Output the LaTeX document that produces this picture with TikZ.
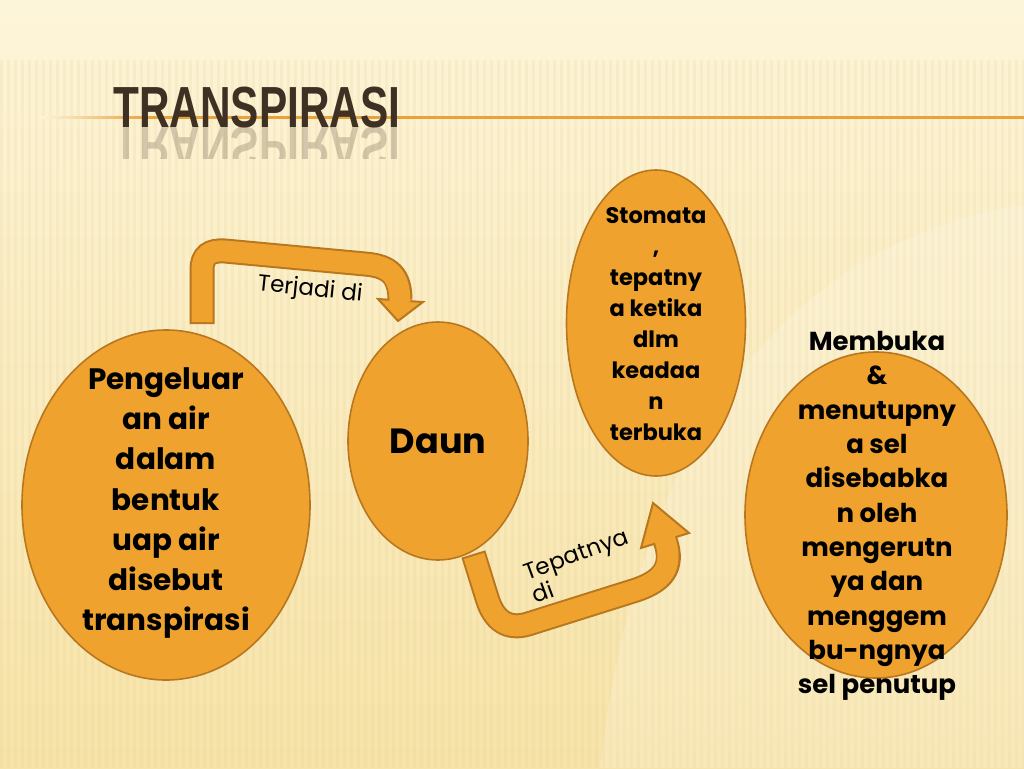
\documentclass[tikz,border=0pt]{standalone}
\usepackage{fontspec}
\usepackage{graphicx}
\usetikzlibrary{shapes.geometric}
\newfontfamily\pop{Poppins}
\newfontfamily\ttlfont{Liberation Sans}
\definecolor{bgtop}{HTML}{FDF5DA}
\definecolor{bgbot}{HTML}{F7E3A8}
\definecolor{stripe}{HTML}{E6CF8A}
\definecolor{orng}{HTML}{F0A22E}
\definecolor{brd}{HTML}{B8771F}
\definecolor{ttl}{HTML}{3E3023}
\definecolor{tline}{HTML}{E8A23C}
\begin{document}
\begin{tikzpicture}[x=1pt,y=-1pt,
  bubble/.style={ellipse, fill=orng, draw=brd, line width=1.6pt, inner sep=0pt},
  bodytext/.style={align=center, text=black, inner sep=0pt},
  lbl/.style={text=black, inner sep=0pt, font=\pop\fontsize{23}{25}\selectfont},
  bandout/.style={draw=brd, line width=25pt},
  bandin/.style={draw=orng, line width=21pt},
  headtri/.style={fill=orng, draw=brd, line width=2pt, line join=miter}]
\useasboundingbox (0,0) rectangle (1024,768);
% background
\shade[top color=bgtop, bottom color=bgbot] (0,0) rectangle (1024,768);
\foreach \i in {0,7,...,1024} \fill[stripe, opacity=0.18] (\i,60) rectangle (\i+2.5,768);
\fill[white, opacity=0.18] (600,768) .. controls (640,420) and (800,240) .. (1024,205) -- (1024,768) -- cycle;
% title
\shade[left color=bgtop, right color=tline] (40,116) rectangle (150,118.5);
\fill[tline] (150,116) rectangle (1024,118.5);
\node[anchor=base west, inner sep=0pt, text=ttl] (title) at (113,127)
  {\scalebox{0.73}[1]{\ttlfont\bfseries\fontsize{58}{58}\selectfont TRANSPIRASI}};
\begin{scope}
\clip (100,127) rectangle (430,158);
\node[anchor=base west, inner sep=0pt, text=ttl, opacity=0.22] (titlerefl) at (113,127)
  {\scalebox{0.73}[-1]{\ttlfont\bfseries\fontsize{58}{58}\selectfont TRANSPIRASI}};
\end{scope}
% ellipses
\node[bubble, minimum width=288pt, minimum height=350pt] (left) at (166,505) {};
\node[bubble, minimum width=180pt, minimum height=238pt] (daun) at (438,441) {};
\node[bubble, minimum width=179pt, minimum height=306pt] (stoma) at (656,323) {};
\node[bubble, minimum width=262pt, minimum height=326pt] (right) at (876,515) {};
% texts in ellipses
\node[bodytext, font=\pop\bfseries\fontsize{29.5}{40.3}\selectfont] (lefttxt) at (166,503)
  {Pengeluar\\an air\\dalam\\bentuk\\uap air\\disebut\\transpirasi};
\node[bodytext, font=\pop\bfseries\fontsize{35}{40}\selectfont] (dauntxt) at (daun.center) {Daun};
\node[bodytext, font=\pop\bfseries\fontsize{22.5}{31}\selectfont] (stomatxt) at (656,324)
  {Stomata\\,\\tepatny\\a ketika\\dlm\\keadaa\\n\\terbuka};
\node[bodytext, font=\pop\bfseries\fontsize{26}{34.3}\selectfont] (righttxt) at (877,516)
  {Membuka\\\&\\menutupny\\a sel\\disebabka\\n oleh\\mengerutn\\ya dan\\menggem\\bu-ngnya\\sel penutup};
% top bent arrow
\coordinate (a1s) at (202,322);
\coordinate (a1o) at (202,324);
\coordinate (a1e) at (400,300);
\coordinate (a1i) at (400,302.5);
\path[bandout] (a1o) -- (202,270) .. controls (202,255) and (210,250) .. (225,251) -- (365,264) .. controls (390,266) and (400,276) .. (a1e);
\path[headtri] (378,299) -- (398,321) -- (423,302) -- cycle;
\path[bandin] (a1s) -- (202,270) .. controls (202,255) and (210,250) .. (225,251) -- (365,264) .. controls (390,266) and (400,276) .. (a1i);
% bottom bent arrow
\coordinate (a2s) at (474,556);
\coordinate (a2o) at (473.4,554);
\coordinate (a2e) at (665,540);
\coordinate (a2i) at (664.3,537.6);
\path[bandout] (a2o) -- (487,598) .. controls (494,621) and (508,630) .. (528,624) -- (633,591) .. controls (662,582) and (675,568) .. (a2e);
\path[headtri] (641,548) -- (653,503) -- (689,533) -- cycle;
\path[bandin] (a2s) -- (487,598) .. controls (494,621) and (508,630) .. (528,624) -- (633,591) .. controls (662,582) and (675,568) .. (a2i);
% labels
\node[lbl, rotate=-6] (lbl1) at (310,290) {Terjadi di};
\node[lbl, rotate=20, align=left] (lbl2) at (580,566) {Tepatnya\\di};
\end{tikzpicture}
\end{document}
